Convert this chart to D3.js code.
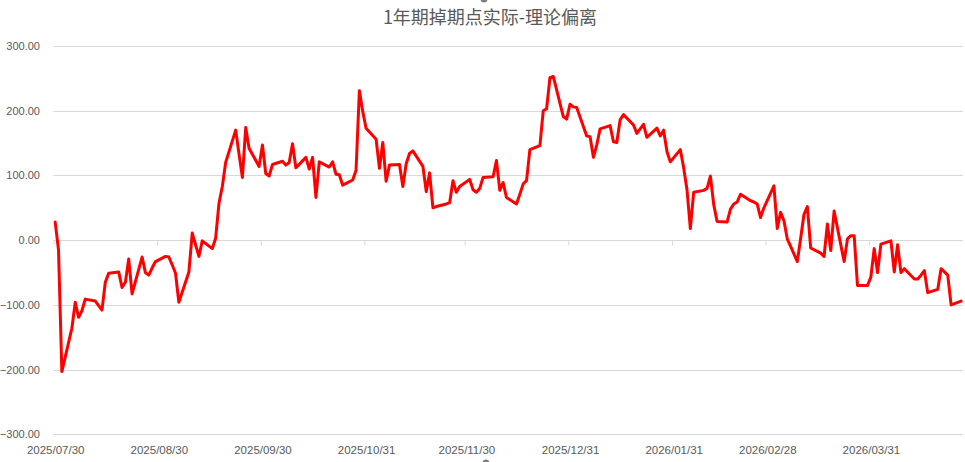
<!DOCTYPE html>
<html><head><meta charset="utf-8">
<script src="https://cdn.jsdelivr.net/npm/d3@7/dist/d3.min.js"></script>
<style>
html,body{margin:0;padding:0;background:#fff;}
svg{display:block;}
</style></head>
<body>
<svg id="chart" width="965" height="462"></svg>
<script>
const title = "1年期掉期点实际-理论偏离";

const dates = [
"2025-07-30","2025-07-31","2025-08-01","2025-08-04","2025-08-05","2025-08-06","2025-08-07","2025-08-08",
"2025-08-11","2025-08-12","2025-08-13","2025-08-14","2025-08-15","2025-08-18","2025-08-19","2025-08-20",
"2025-08-21","2025-08-22","2025-08-25","2025-08-26","2025-08-27","2025-08-28","2025-08-29","2025-09-01",
"2025-09-02","2025-09-03","2025-09-04","2025-09-05","2025-09-08","2025-09-09","2025-09-10","2025-09-11",
"2025-09-12","2025-09-15","2025-09-16","2025-09-17","2025-09-18","2025-09-19","2025-09-22","2025-09-23",
"2025-09-24","2025-09-25","2025-09-26","2025-09-29","2025-09-30","2025-10-01","2025-10-02","2025-10-03",
"2025-10-06","2025-10-07","2025-10-08","2025-10-09","2025-10-10","2025-10-13","2025-10-14","2025-10-15",
"2025-10-16","2025-10-17","2025-10-20","2025-10-21","2025-10-22","2025-10-23","2025-10-24","2025-10-27",
"2025-10-28","2025-10-29","2025-10-30","2025-10-31","2025-11-03","2025-11-04","2025-11-05","2025-11-06",
"2025-11-07","2025-11-10","2025-11-11","2025-11-12","2025-11-13","2025-11-14","2025-11-17","2025-11-18",
"2025-11-19","2025-11-20","2025-11-21","2025-11-24","2025-11-25","2025-11-26","2025-11-27","2025-11-28",
"2025-12-01","2025-12-02","2025-12-03","2025-12-04","2025-12-05","2025-12-08","2025-12-09","2025-12-10",
"2025-12-11","2025-12-12","2025-12-15","2025-12-16","2025-12-17","2025-12-18","2025-12-19","2025-12-22",
"2025-12-23","2025-12-24","2025-12-25","2025-12-26","2025-12-29","2025-12-30","2025-12-31","2026-01-01",
"2026-01-02","2026-01-05","2026-01-06","2026-01-07","2026-01-08","2026-01-09","2026-01-12","2026-01-13",
"2026-01-14","2026-01-15","2026-01-16","2026-01-19","2026-01-20","2026-01-21","2026-01-22","2026-01-23",
"2026-01-26","2026-01-27","2026-01-28","2026-01-29","2026-01-30","2026-02-02","2026-02-03","2026-02-04",
"2026-02-05","2026-02-06","2026-02-09","2026-02-10","2026-02-11","2026-02-12","2026-02-13","2026-02-16",
"2026-02-17","2026-02-18","2026-02-19","2026-02-20","2026-02-23","2026-02-24","2026-02-25","2026-02-26",
"2026-02-27","2026-03-02","2026-03-03","2026-03-04","2026-03-05","2026-03-06","2026-03-09","2026-03-10",
"2026-03-11","2026-03-12","2026-03-13","2026-03-16","2026-03-17","2026-03-18","2026-03-19","2026-03-20",
"2026-03-23","2026-03-24","2026-03-25","2026-03-26","2026-03-27","2026-03-30","2026-03-31","2026-04-01",
"2026-04-02","2026-04-03","2026-04-06","2026-04-07","2026-04-08","2026-04-09","2026-04-10","2026-04-13",
"2026-04-14","2026-04-15","2026-04-16","2026-04-17","2026-04-20","2026-04-21","2026-04-22","2026-04-23",
"2026-04-24","2026-04-27"
];

const deviation = [
28,-15,-203,-136,-96,-119,-109,-91,
-94,-101,-108,-65,-51,-49,-73,-65,
-29,-83,-26,-50,-54,-43,-33,-25,
-26,-38,-51,-96,-49,11,-7,-25,
-1,-13,3,57,83,120,170,133,
97,174,142,114,147,103,99,117,
122,116,120,149,112,128,110,128,
66,121,113,121,102,101,85,93,
108,231,199,173,156,111,151,91,
116,117,83,118,134,138,114,75,
104,50,52,56,58,92,74,83,
94,78,74,80,97,98,123,77,
89,66,56,71,87,92,140,146,
200,203,251,253,191,187,210,206,
205,161,160,128,147,172,177,152,
151,186,194,178,165,172,179,159,
173,161,170,137,121,140,112,78,
18,74,77,80,99,55,29,28,
48,56,59,71,61,59,56,35,
50,84,18,43,30,2,-33,3,
40,52,-12,-20,-25,25,-16,45,
-33,2,7,7,-70,-70,-57,-13,
-50,-6,-1,-49,-7,-50,-44,-60,
-60,-54,-47,-81,-76,-44,-49,-54,
-100,-94
];

const xTickDates = ["2025-07-30","2025-08-30","2025-09-30","2025-10-31","2025-11-30","2025-12-31","2026-01-31","2026-02-28","2026-03-31"];
const xTickLabels = ["2025/07/30","2025/08/30","2025/09/30","2025/10/31","2025/11/30","2025/12/31","2026/01/31","2026/02/28","2026/03/31"];
const yTicks = [-300,-200,-100,0,100,200,300];

(function () {
const parse = d3.utcParse("%Y-%m-%d");
const DAY = 86400000;
const halfDay = d => new Date(d.getTime() + DAY/2);

const svg = d3.select("#chart");
const pLeft = 53.5, pRight = 962.8, pTop = 46, pBottom = 434.4;

const x = d3.scaleUtc()
  .domain([parse("2025-07-30"), new Date(parse("2026-04-27").getTime() + DAY)])
  .range([pLeft, pRight]);
const y = d3.scaleLinear().domain([-300, 300]).range([pBottom, pTop]);

// gridlines
svg.append("g").selectAll("line").data(yTicks.filter(v => v !== 0)).join("line")
  .attr("x1", pLeft).attr("x2", pRight)
  .attr("y1", d => Math.round(y(d)) + 0.5).attr("y2", d => Math.round(y(d)) + 0.5)
  .attr("stroke", "#d9d9d9").attr("stroke-width", 1);

// y labels
const yAxis = d3.axisLeft(y).tickValues(yTicks).tickSize(0).tickPadding(0).tickFormat(d3.format(".2f"));
const yg = svg.append("g").attr("transform", "translate(40,0)").call(yAxis);
yg.select(".domain").remove();
yg.selectAll("text").attr("fill", "#595959").attr("font-family", "'Liberation Sans', Arial, sans-serif").attr("font-size", "11px");

// x axis at zero line
const y0 = Math.round(y(0)) + 0.5;
const xAxis = d3.axisBottom(x).tickValues(xTickDates.map(parse)).tickSizeInner(5).tickSizeOuter(0)
  .tickFormat((d, i) => xTickLabels[i]);
const xg = svg.append("g").attr("transform", `translate(0,${y0})`).call(xAxis);
xg.select(".domain").attr("d", `M${pLeft},0H${pRight}`).attr("stroke", "#d9d9d9");
xg.selectAll(".tick line").attr("stroke", "#d9d9d9");
xg.selectAll(".tick text")
  .attr("x", 1.7)
  .attr("y", 450 - y0)
  .attr("dy", "0.35em")
  .attr("fill", "#595959")
  .attr("font-family", "'Liberation Sans', Arial, sans-serif")
  .attr("font-size", "11.5px");

// line
const data = dates.map((d, i) => ({date: halfDay(parse(d)), value: deviation[i]}));
const line = d3.line().x(d => x(d.date)).y(d => y(d.value));
svg.append("path").datum(data)
  .attr("d", line)
  .attr("fill", "none")
  .attr("stroke", "#ff0000")
  .attr("stroke-width", 3)
  .attr("stroke-linejoin", "round")
  .attr("stroke-linecap", "round");

// title
svg.append("text")
  .attr("x", 490).attr("y", 24)
  .attr("text-anchor", "middle")
  .attr("fill", "#595959")
  .attr("font-family", "'Noto Sans CJK SC', sans-serif")
  .attr("font-size", "18px")
  .text(title);

// selection handles of the original chart frame
svg.append("circle").attr("cx", 484).attr("cy", -1).attr("r", 3.5).attr("fill", "#7f7f7f");
svg.append("circle").attr("cx", 486).attr("cy", 463).attr("r", 3.5).attr("fill", "#7f7f7f");
})();
</script>
</body></html>
